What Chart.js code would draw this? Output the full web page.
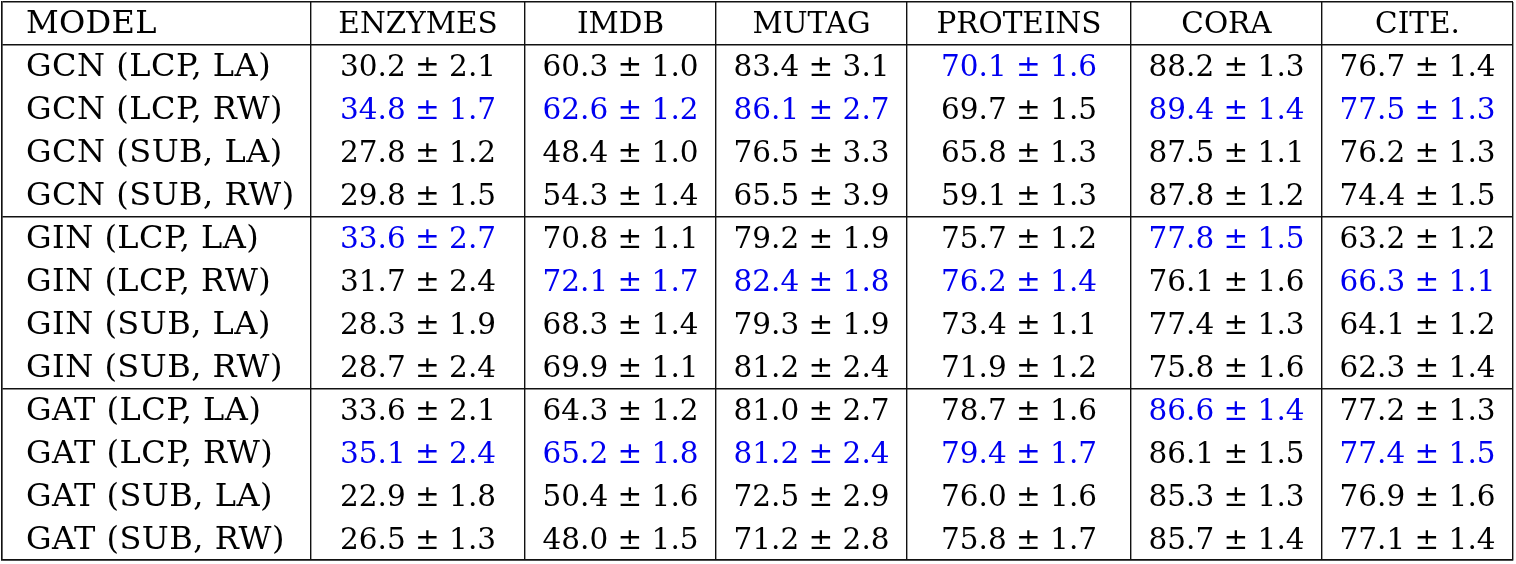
<!DOCTYPE html>
<html>
<head>
<meta charset="utf-8">
<script src="https://cdn.jsdelivr.net/npm/chart.js@4/dist/chart.umd.min.js"></script>
<style>
  html, body { margin: 0; padding: 0; background: #fff; }
  #wrap { width: 1516px; height: 564px; }
</style>
</head>
<body>
<div id="wrap"><canvas id="tbl" width="1516" height="564"></canvas></div>
<script>
// --- data ---
var models = ['GCN (LCP, LA)', 'GCN (LCP, RW)', 'GCN (SUB, LA)', 'GCN (SUB, RW)',
              'GIN (LCP, LA)', 'GIN (LCP, RW)', 'GIN (SUB, LA)', 'GIN (SUB, RW)',
              'GAT (LCP, LA)', 'GAT (LCP, RW)', 'GAT (SUB, LA)', 'GAT (SUB, RW)'];
var columns = ['ENZYMES', 'IMDB', 'MUTAG', 'PROTEINS', 'CORA', 'CITE.'];

var enzymes     = [30.2, 34.8, 27.8, 29.8, 33.6, 31.7, 28.3, 28.7, 33.6, 35.1, 22.9, 26.5];
var enzymesStd  = [2.1, 1.7, 1.2, 1.5, 2.7, 2.4, 1.9, 2.4, 2.1, 2.4, 1.8, 1.3];
var imdb        = [60.3, 62.6, 48.4, 54.3, 70.8, 72.1, 68.3, 69.9, 64.3, 65.2, 50.4, 48.0];
var imdbStd     = [1.0, 1.2, 1.0, 1.4, 1.1, 1.7, 1.4, 1.1, 1.2, 1.8, 1.6, 1.5];
var mutag       = [83.4, 86.1, 76.5, 65.5, 79.2, 82.4, 79.3, 81.2, 81.0, 81.2, 72.5, 71.2];
var mutagStd    = [3.1, 2.7, 3.3, 3.9, 1.9, 1.8, 1.9, 2.4, 2.7, 2.4, 2.9, 2.8];
var proteins    = [70.1, 69.7, 65.8, 59.1, 75.7, 76.2, 73.4, 71.9, 78.7, 79.4, 76.0, 75.8];
var proteinsStd = [1.6, 1.5, 1.3, 1.3, 1.2, 1.4, 1.1, 1.2, 1.6, 1.7, 1.6, 1.7];
var cora        = [88.2, 89.4, 87.5, 87.8, 77.8, 76.1, 77.4, 75.8, 86.6, 86.1, 85.3, 85.7];
var coraStd     = [1.3, 1.4, 1.1, 1.2, 1.5, 1.6, 1.3, 1.6, 1.4, 1.5, 1.3, 1.4];
var citeseer    = [76.7, 77.5, 76.2, 74.4, 63.2, 66.3, 64.1, 62.3, 77.2, 77.4, 76.9, 77.1];
var citeseerStd = [1.4, 1.3, 1.3, 1.5, 1.2, 1.1, 1.2, 1.4, 1.3, 1.5, 1.6, 1.4];

var means = [enzymes, imdb, mutag, proteins, cora, citeseer];
var stds = [enzymesStd, imdbStd, mutagStd, proteinsStd, coraStd, citeseerStd];
var groupSize = 4;

// --- layout (scale units) ---
var colEdges = [0, 309, 523, 714, 905, 1129, 1320, 1511];
var rowLines = [0, 1, 5, 9, 13];
var textPad = 24;
var blue = '#0000f0';
var black = '#000';
var labelFont = '32px "DejaVu Serif"';
var numFont = '29.5px "DejaVu Serif"';

function bestInGroup(col, row) {
    var g = Math.floor(row / groupSize) * groupSize;
    var vals = means[col].slice(g, g + groupSize);
    return means[col][row] === Math.max.apply(null, vals);
}

var cells = [];
cells.push({ x: colEdges[0] + textPad, y: 0.5, text: 'MODEL', align: 'left', color: black, font: labelFont, spacing: '0.3px' });
columns.forEach(function (name, c) {
    cells.push({ x: (colEdges[c + 1] + colEdges[c + 2]) / 2, y: 0.5, text: name, align: 'center', color: black, font: numFont, spacing: '0px' });
});
models.forEach(function (m, r) {
    cells.push({ x: colEdges[0] + textPad, y: r + 1.5, text: m, align: 'left', color: black, font: labelFont, spacing: '0.5px' });
    means.forEach(function (col, c) {
        cells.push({
            x: (colEdges[c + 1] + colEdges[c + 2]) / 2,
            y: r + 1.5,
            text: col[r].toFixed(1) + ' \u00b1 ' + stds[c][r].toFixed(1),
            align: 'center',
            color: bestInGroup(c, r) ? blue : black,
            font: numFont,
            spacing: '0px'
        });
    });
});

var cellText = {
    id: 'cellText',
    afterDatasetsDraw: function (chart) {
        var ctx = chart.ctx;
        var meta = chart.getDatasetMeta(0);
        ctx.save();
        ctx.textBaseline = 'alphabetic';
        meta.data.forEach(function (el, i) {
            var cell = chart.data.datasets[0].data[i];
            ctx.font = cell.font;
            ctx.fillStyle = cell.color;
            ctx.textAlign = cell.align;
            ctx.letterSpacing = cell.spacing;
            ctx.fillText(cell.text, el.x, el.y + 10);
        });
        ctx.restore();
    }
};

var lineColor = '#111';
var lineWidth = 1.4;

new Chart(document.getElementById('tbl').getContext('2d'), {
    type: 'scatter',
    data: { datasets: [{ data: cells, pointRadius: 0, pointHoverRadius: 0 }] },
    options: {
        responsive: false,
        animation: false,
        events: [],
        layout: { padding: { left: 2, right: 3, top: 2, bottom: 4 } },
        plugins: { legend: { display: false }, tooltip: { enabled: false } },
        scales: {
            x: {
                type: 'linear', min: colEdges[0], max: colEdges[colEdges.length - 1],
                afterBuildTicks: function (scale) {
                    scale.ticks = colEdges.map(function (v) { return { value: v }; });
                },
                ticks: { display: false },
                grid: { drawTicks: false, color: lineColor, lineWidth: lineWidth },
                border: { display: true, color: lineColor, width: lineWidth }
            },
            y: {
                type: 'linear', min: 0, max: 13, reverse: true,
                afterBuildTicks: function (scale) {
                    scale.ticks = rowLines.map(function (v) { return { value: v }; });
                },
                ticks: { display: false },
                grid: { drawTicks: false, color: lineColor, lineWidth: lineWidth },
                border: { display: true, color: lineColor, width: lineWidth }
            }
        }
    },
    plugins: [cellText]
});
</script>
</body>
</html>
